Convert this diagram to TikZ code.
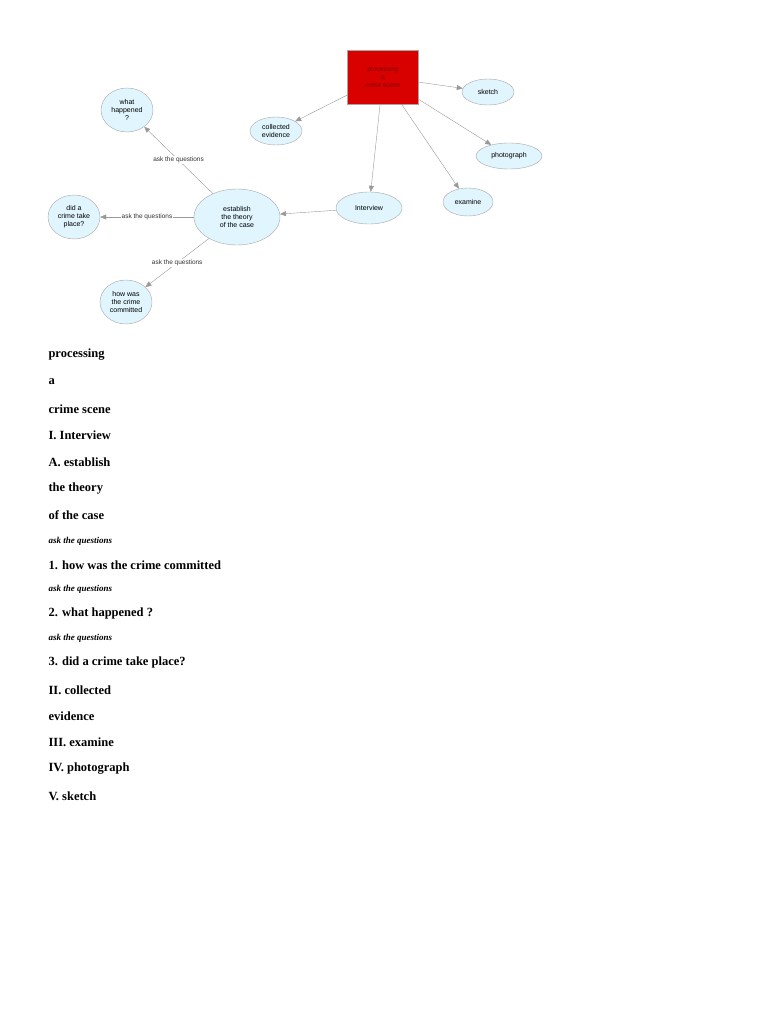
\documentclass[tikz,border=0pt]{standalone}
\usepackage{fontspec}
\setmainfont{Liberation Serif}
\setsansfont{Liberation Sans}
\usetikzlibrary{positioning,arrows.meta,shapes.geometric}

\begin{document}
\begin{tikzpicture}[x=1pt,y=-1pt,
  concept/.style={ellipse,draw=gray!70,fill=cyan!12,inner sep=0pt,align=center,font=\sffamily\fontsize{7}{8}\selectfont},
  link/.style={draw=gray!80,-{Triangle[length=6pt,width=5pt]}},
  linklabel/.style={fill=white,inner sep=1pt,font=\sffamily\fontsize{6.5}{7}\selectfont,text=black!80},
  line/.style={anchor=west,font=\bfseries\fontsize{12.5}{14}\selectfont},
  qline/.style={anchor=west,font=\bfseries\itshape\fontsize{9}{10}\selectfont}]
\useasboundingbox (0,0) rectangle (768,1024);
        \node[draw=gray!70,fill=red!85!black,minimum width=71pt,minimum height=54pt,align=center,
              font=\sffamily\fontsize{6.5}{8}\selectfont,text=red!50!black] (proc) at (383,77) {processing\\a\\crime scene};
        \node[concept,minimum width=52pt,minimum height=26pt] (sketch) at (488,92) {sketch};
        \node[concept,minimum width=52pt,minimum height=28pt] (evid) at (276,131) {collected\\evidence};
        \node[concept,minimum width=66pt,minimum height=26pt] (photo) at (509,156) {photograph};
        \node[concept,minimum width=50pt,minimum height=28pt] (exam) at (468,202) {examine};
        \node[concept,minimum width=66pt,minimum height=32pt] (inter) at (369,208) {Interview};
        \node[concept,minimum width=86pt,minimum height=56pt] (theory) at (237,217) {establish\\the theory\\of the case};
        \node[concept,minimum width=52pt,minimum height=44pt] (what) at (127,110) {what\\happened\\?};
        \node[concept,minimum width=52pt,minimum height=44pt] (did) at (74,217) {did a\\crime take\\place?};
        \node[concept,minimum width=52pt,minimum height=44pt] (how) at (126,302) {how was\\the crime\\committed};

        \foreach \x in {sketch,evid,photo,exam,inter}{
            \draw[link] (proc)--(\x);
        }
        \draw[link] (inter)--(theory);
        \draw[link] (theory)--node[linklabel]{ask the questions}(what);
        \draw[link] (theory)--node[linklabel]{ask the questions}(did);
        \draw[link] (theory)--node[linklabel]{ask the questions}(how);

        % outline below the map
        \node[line] (l1) at (45,355) {processing};
        \node[line] (l2) at (45,382) {a};
        \node[line] (l3) at (45,409) {crime scene};
        \node[line] (l4) at (45,435) {I. Interview};
        \node[line] (l5) at (45,462) {A. establish};
        \node[line] (l6) at (45,489) {the theory};
        \node[line] (l7) at (45,515) {of the case};
        \node[qline] (q1) at (45,541) {ask the questions};
        \node[line] (l8) at (45,565) {1. how was the crime committed};
        \node[qline] (q2) at (45,589) {ask the questions};
        \node[line] (l9) at (45,613) {2. what happened ?};
        \node[qline] (q3) at (45,638) {ask the questions};
        \node[line] (l10) at (45,662) {3. did a crime take place?};
        \node[line] (l11) at (45,690) {II. collected};
        \node[line] (l12) at (45,716) {evidence};
        \node[line] (l13) at (45,742) {III. examine};
        \node[line] (l14) at (45,769) {IV. photograph};
        \node[line] (l15) at (45,796) {V. sketch};
\end{tikzpicture}
\end{document}
